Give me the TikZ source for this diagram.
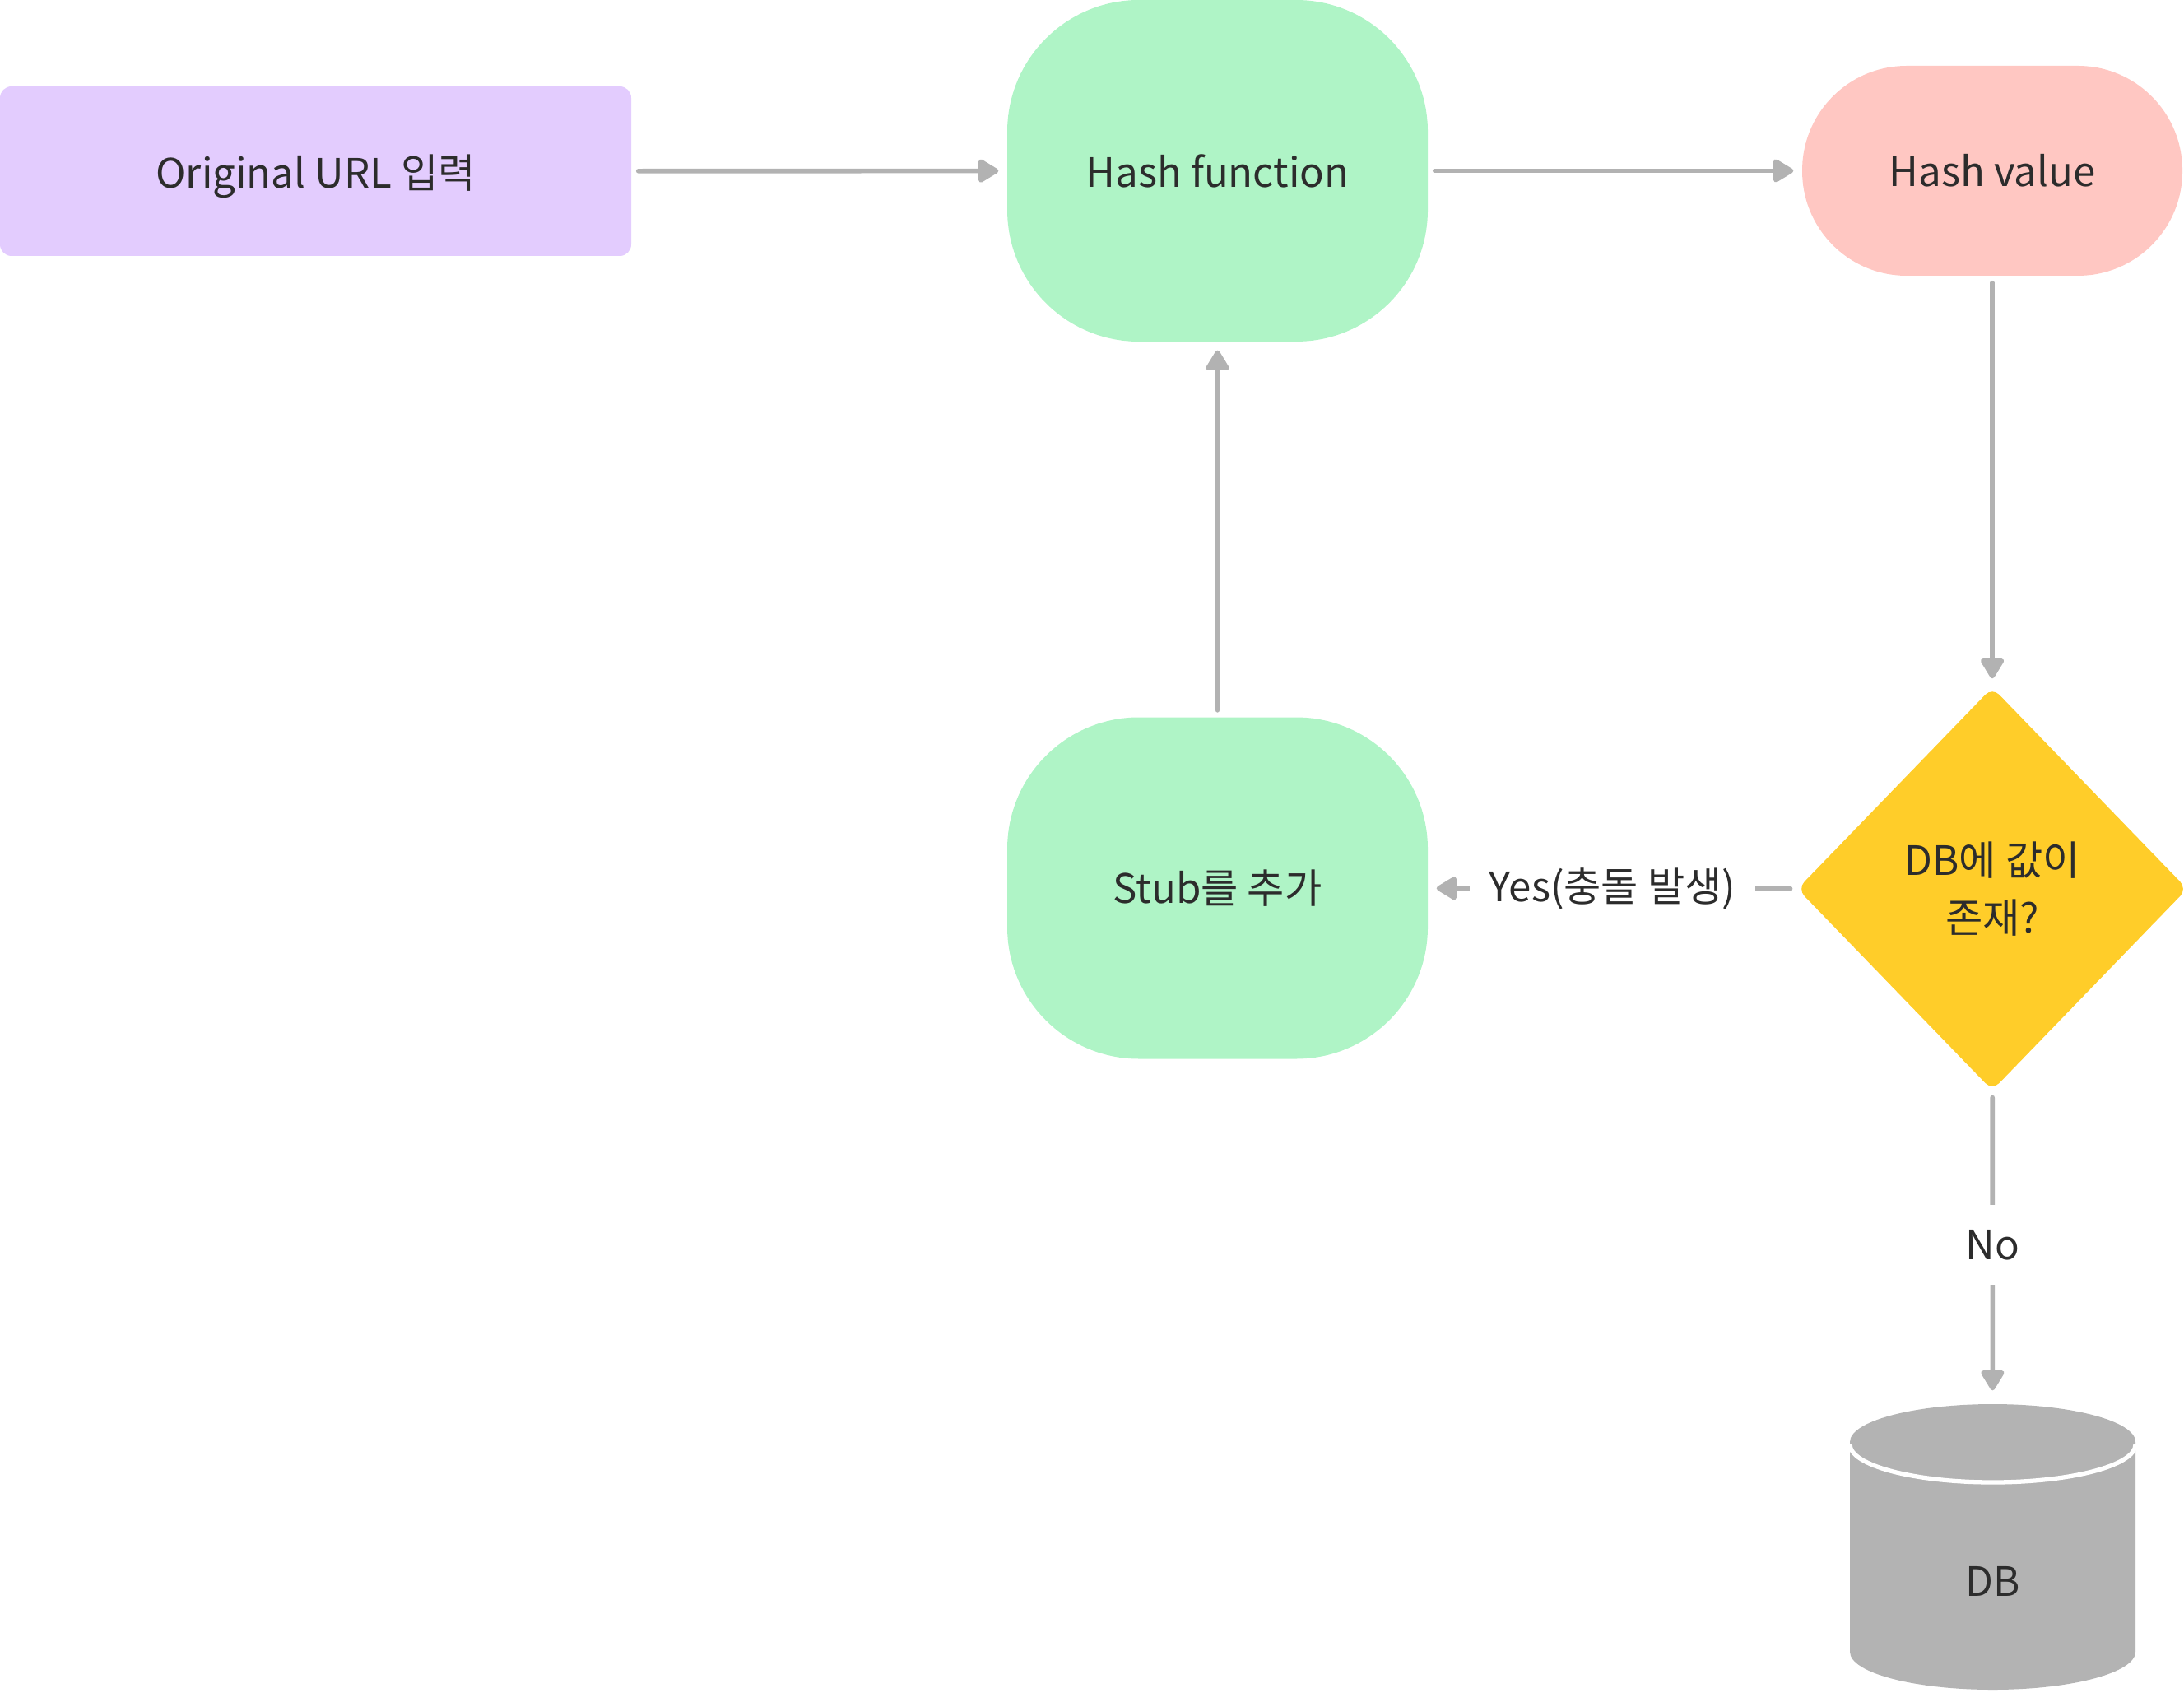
\documentclass[tikz,border=0pt]{standalone}
\usepackage{fontspec}
\setmainfont{Noto Sans CJK KR}
\usetikzlibrary{shapes.geometric,arrows.meta}

\definecolor{urlpurple}{HTML}{E3CCFE}
\definecolor{hashgreen}{HTML}{AFF4C6}
\definecolor{valuepink}{HTML}{FFC7C2}
\definecolor{condyellow}{HTML}{FFCD29}
\definecolor{dbgray}{HTML}{B3B3B3}
\definecolor{linegray}{HTML}{B2B2B2}
\definecolor{textdark}{HTML}{2C2C2C}

\begin{document}
\begin{tikzpicture}[
    every node/.style={font=\fontsize{14}{20}\selectfont,text=textdark},
    process/.style={rectangle,minimum width=5.11cm,minimum height=4.15cm,rounded corners=1.6cm,fill=hashgreen},
    decision/.style={diamond,aspect=1,inner sep=0pt,minimum width=4.74cm,minimum height=4.9cm,rounded corners=0.12cm,fill=condyellow,align=center},
    arrow/.style={-{Triangle[length=0.27cm,width=0.31cm,round]},line width=1.6pt,draw=linegray,line cap=round,shorten <=0.08cm,shorten >=0.1cm},
    edgelabel/.style={fill=white,inner xsep=0.24cm,inner ysep=0.22cm}
]
    \useasboundingbox (0,0) rectangle (26.54,-20.56);

    % Row 1: input and hashing
    \node[rectangle,rounded corners=0.14cm,minimum width=7.67cm,minimum height=2.06cm,fill=urlpurple,text depth=0pt] (url) at (3.835,-2.08) {Original URL 입력};
    \node[process] (hash) at (14.795,-2.075) {Hash function};
    \node[rectangle,rounded corners=1.27cm,minimum width=4.62cm,minimum height=2.55cm,fill=valuepink] (value) at (24.21,-2.075) {Hash value};

    % Row 2: collision check
    \node[decision] (check) at (24.21,-10.80) {DB에 값이\\존재?};
    \node[process] (stub) at (14.795,-10.79) {Stub를 추가};

    % Row 3: storage
    \fill[dbgray] (22.48,-17.52) -- (22.48,-20.07)
        arc[start angle=180,end angle=360,x radius=1.735cm,y radius=0.46cm]
        -- (25.95,-17.52)
        arc[start angle=0,end angle=180,x radius=1.735cm,y radius=0.46cm] -- cycle;
    \draw[white,line width=1.5pt] (22.48,-17.55) arc[start angle=180,end angle=360,x radius=1.735cm,y radius=0.46cm];
    \node[rectangle,minimum width=3.47cm,minimum height=4.42cm] (db) at (24.215,-19.21) {DB};

    % Arrows
    \draw[arrow] (url) -- (hash);
    \draw[arrow] (hash) -- (value);
    \draw[arrow] (value) -- (check);
    \draw[arrow] (check) -- node[edgelabel] {Yes(충돌 발생)} (stub);
    \draw[arrow] (stub) -- (hash);
    \draw[arrow] (check) -- node[edgelabel,inner ysep=0.3cm] {No} (db);
\end{tikzpicture}
\end{document}
